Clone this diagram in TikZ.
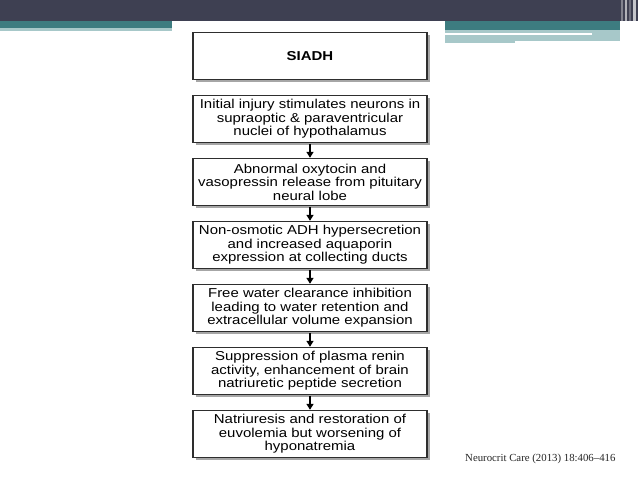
\documentclass[tikz,border=0pt]{standalone}
\usepackage{fontspec}
\usetikzlibrary{arrows.meta,shadows}
\newfontfamily\boxfont[FakeStretch=1.16]{Liberation Sans}
\newfontfamily\citefont{Liberation Serif}
\definecolor{Slate}{HTML}{3E4052}
\definecolor{Teal}{HTML}{3D7C80}
\definecolor{TealLight}{HTML}{A7C8C9}
\definecolor{Frame}{HTML}{2E2E2E}

\begin{document}
\begin{tikzpicture}[x=1pt,y=-1pt,
  stepbox/.style={draw=Frame,line width=1.4pt,fill=white,minimum width=234pt,minimum height=47pt,
    inner sep=0pt,align=center,font=\boxfont\fontsize{12.9}{13.6}\selectfont,text=black,
    drop shadow={shadow xshift=2.5pt,shadow yshift=-3pt,fill=black,opacity=0.35}},
  flowarrow/.style={-{Triangle[width=7pt,length=6pt]},line width=1.6pt,black,shorten <=0.6pt}]
\useasboundingbox (0,0) rectangle (638,478);
\fill[white] (0,0) rectangle (638,478);
% slide header bands
\fill[Slate] (0,0) rectangle (638,21);
\fill[Teal] (0,21) rectangle (172,28);
\fill[TealLight] (0,28) rectangle (172,31);
\fill[Teal] (445,21) rectangle (620,30);
\fill[TealLight] (445,30) rectangle (620,41);
\fill[TealLight] (445,41) rectangle (515,43);
\fill[white] (445,33.5) rectangle (592,35.5);
\fill[white,opacity=0.35] (621,0) rectangle (623,42);
\fill[white,opacity=0.6] (625,0) rectangle (627,42);
\fill[white,opacity=0.25] (629,0) rectangle (631,42);
\fill[white,opacity=0.7] (633,0) rectangle (636,42);
% flow chart
\node[stepbox] (siadh) at (310,56) {\bfseries SIADH};
\node[stepbox] (injury) at (310,119) {Initial injury stimulates neurons in\\supraoptic \& paraventricular\\nuclei of hypothalamus};
\node[stepbox] (release) at (310,182) {Abnormal oxytocin and\\vasopressin release from pituitary\\neural lobe};
\node[stepbox] (adh) at (310,245) {Non-osmotic ADH hypersecretion\\and increased aquaporin\\expression at collecting ducts};
\node[stepbox] (water) at (310,308) {Free water clearance inhibition\\leading to water retention and\\extracellular volume expansion};
\node[stepbox] (renin) at (310,371) {Suppression of plasma renin\\activity, enhancement of brain\\natriuretic peptide secretion};
\node[stepbox] (natri) at (310,434) {Natriuresis and restoration of\\euvolemia but worsening of\\hyponatremia};
\draw[flowarrow] (injury) -- (release);
\draw[flowarrow] (release) -- (adh);
\draw[flowarrow] (adh) -- (water);
\draw[flowarrow] (water) -- (renin);
\draw[flowarrow] (renin) -- (natri);
% source
\node[anchor=west,inner sep=0pt,font=\citefont\fontsize{10.8}{12}\selectfont,text=black!85] (source) at (465,459) {Neurocrit Care (2013) 18:406–416};
\end{tikzpicture}
\end{document}
